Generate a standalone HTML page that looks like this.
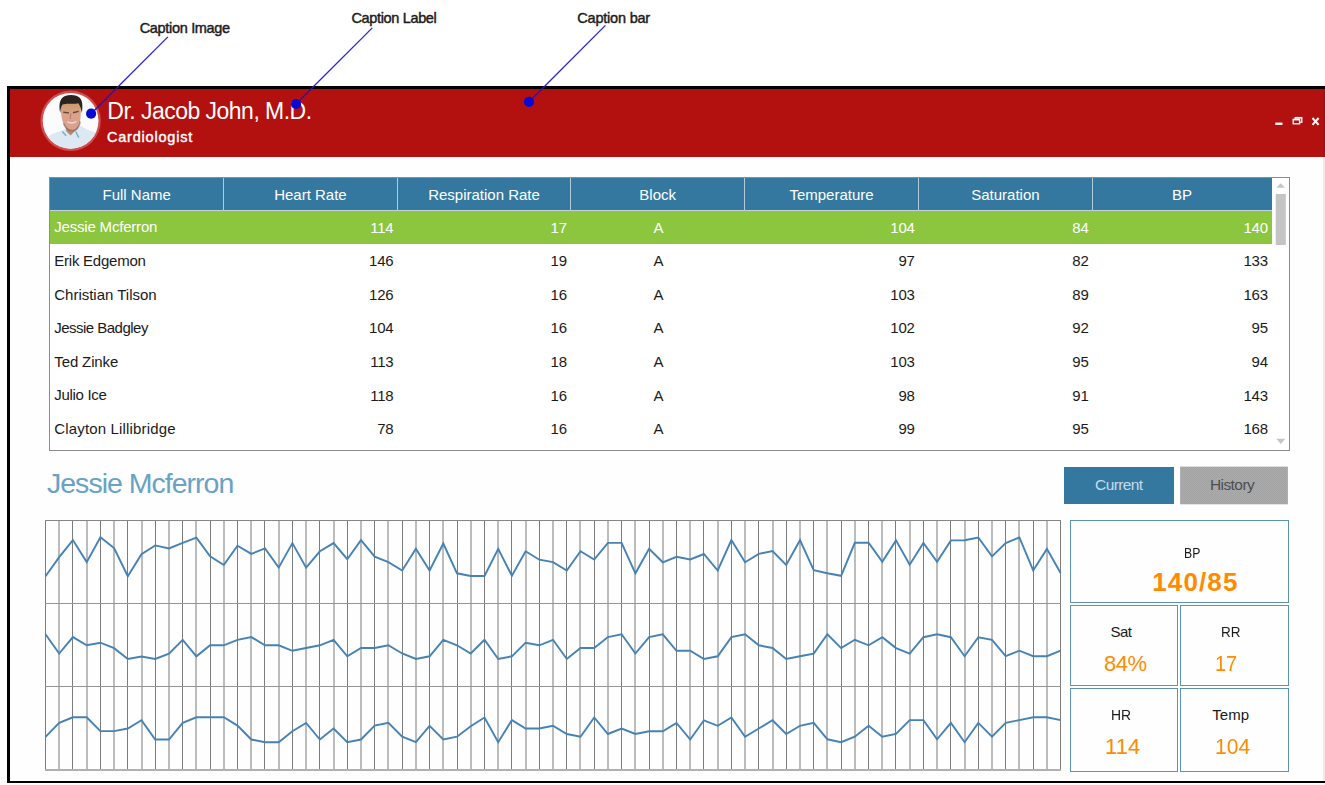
<!DOCTYPE html>
<html><head><meta charset="utf-8"><title>Patient Monitor</title>
<style>
html,body{margin:0;padding:0;background:#fff;}
body{width:1325px;height:785px;position:relative;overflow:hidden;font-family:"Liberation Sans",sans-serif;}
.abs{position:absolute;}
.t{position:absolute;white-space:nowrap;}
#win{position:absolute;left:7px;top:86px;width:1318px;height:697px;background:#fefefe;}
#bl{position:absolute;left:7px;top:86px;width:3px;height:696.7px;background:#000;}
#bt{position:absolute;left:7px;top:86px;width:1318px;height:2.5px;background:#000;}
#bb{position:absolute;left:7px;top:781.2px;width:1318px;height:1.5px;background:#000;}
#bar{position:absolute;left:10px;top:88.5px;width:1315px;height:68px;background:#b31110;}
#tbl{position:absolute;left:49px;top:177px;width:1239px;height:272px;border:1px solid #8c8c8c;background:#fff;box-sizing:content-box;}
#thead{position:absolute;left:50px;top:178px;width:1221.7px;height:32.3px;background:#34789f;}
#hline{position:absolute;left:50px;top:210.2px;width:1221.7px;height:1px;background:#c3d3dd;}
#sel{position:absolute;left:50px;top:211.2px;width:1221.7px;height:32.6px;background:#8cc63f;}
.box{position:absolute;border:1px solid #5b93b5;box-sizing:border-box;background:#fefefe;}
</style></head><body>
<div id="win"></div>
<div id="bar"></div>
<div class="abs" style="left:1323px;top:88.5px;width:2px;height:693px;background:rgba(0,0,0,0.075)"></div>
<div id="bl"></div><div id="bt"></div><div id="bb"></div>

<!-- avatar -->
<svg class="abs" style="left:38px;top:88px" width="66" height="68" viewBox="38 88 66 68">
<defs><clipPath id="av"><circle cx="70.6" cy="120.8" r="27.9"/></clipPath>
<filter id="sb" x="-10%" y="-10%" width="120%" height="120%"><feGaussianBlur stdDeviation="0.55"/></filter>
<linearGradient id="skin" x1="0" y1="0" x2="0" y2="1"><stop offset="0" stop-color="#c9996b"/><stop offset="0.45" stop-color="#dda28a"/><stop offset="1" stop-color="#d9a092"/></linearGradient></defs>
<circle cx="70.6" cy="120.8" r="30.2" fill="#d24d4b"/>
<circle cx="70.6" cy="120.8" r="27.9" fill="#f9fbfd"/>
<g clip-path="url(#av)"><g filter="url(#sb)">
<path d="M45 153 L47.6 136.5 C52 133.5 58 132 63 130 L66.3 128 L70.3 133.5 L80 125.5 C84 128.5 90 130.5 95 132.5 L100 153 Z" fill="#dce9f2"/>
<path d="M64.8 124 L66.5 131.5 L70.5 135.5 L78 128 L79 121 Z" fill="#b98670"/>
<path d="M62.3 131.5 L66.2 135.8" stroke="#6fa9d2" stroke-width="1.3"/>
<path d="M75.6 131.5 L78.8 137.6" stroke="#6fa9d2" stroke-width="1.3"/>
<path d="M61 105 C60.5 112 61.5 120 64 125 C66.5 130 71 131.8 74 130.6 C78 129 80 124 80.5 118 C81 112 81 107 80 103.5 C76 101.5 66 101.5 61 105 Z" fill="url(#skin)"/>
<path d="M63.6 123.5 C66 129.8 71 131.6 75 130 C78 128.5 79.6 125 80.2 121.5" stroke="#6e4a3b" stroke-width="1.5" fill="none" opacity=".5"/>
<path d="M60.2 113 C58.4 104 60 98 65 96 C70 94.2 77 94.6 80 98 C83 101.5 82.6 108 81.9 113 C81 108.5 80 105.5 78.3 103.3 C74 104.6 66 103 62.6 104.6 C61 106.5 60.6 109.5 60.2 113 Z" fill="#2a201c"/>
<path d="M63.3 112.2 L69 112.9 M73 112.7 L78.6 111.4" stroke="#553527" stroke-width="1.4" opacity=".85"/>
<path d="M70.8 113.5 L70.2 119" stroke="#a06a50" stroke-width="1.2" opacity=".6"/>
<path d="M67.2 121.8 C70 123.6 74 123.4 76.4 121.2" stroke="#fff" stroke-width="1.3" fill="none" opacity=".6"/>
</g></g>
</svg>

<!-- window buttons -->
<svg class="abs" style="left:1270px;top:112px" width="55" height="18" viewBox="1270 112 55 18">
<rect x="1275.3" y="122.6" width="7.2" height="2.3" fill="#fff"/>
<g fill="none" stroke="#fff" stroke-width="1.3"><rect x="1295.2" y="117.6" width="6.6" height="4.6"/><rect x="1293.2" y="119.4" width="6.4" height="4.4" fill="#b31110"/></g>
<rect x="1295.2" y="117" width="6.6" height="1.6" fill="#fff"/><rect x="1293.2" y="118.9" width="6.4" height="1.5" fill="#fff"/>
<path d="M1312.5 118 L1318.6 124.8 M1318.6 118 L1312.5 124.8" stroke="#fff" stroke-width="2" fill="none"/>
</svg>

<!-- table -->
<div id="tbl"></div>
<div id="thead"></div><div id="hline"></div><div id="sel"></div>
<div class="abs" style="left:222.9px;top:178px;width:1px;height:32.5px;background:#b4cad8"></div><div class="abs" style="left:396.7px;top:178px;width:1px;height:32.5px;background:#b4cad8"></div><div class="abs" style="left:570.1px;top:178px;width:1px;height:32.5px;background:#b4cad8"></div><div class="abs" style="left:744.0px;top:178px;width:1px;height:32.5px;background:#b4cad8"></div><div class="abs" style="left:917.9px;top:178px;width:1px;height:32.5px;background:#b4cad8"></div><div class="abs" style="left:1091.8px;top:178px;width:1px;height:32.5px;background:#b4cad8"></div>
<svg class="abs" style="left:1272px;top:178px" width="17" height="273"><path d="M4.3 9.8 L8.7 5.2 L13 9.8 Z" fill="#c6c6c6"/><rect x="3.7" y="16" width="10.1" height="51" fill="#c4c4c4"/><path d="M4.2 260.8 L13.4 260.8 L8.8 266 Z" fill="#c6c6c6"/></svg>
<div class="t" style="left:102.47px;top:186.60px;font-size:15px;line-height:15px;font-weight:normal;color:#fff;letter-spacing:0.000px;">Full Name</div>
<div class="t" style="left:274.13px;top:186.60px;font-size:15px;line-height:15px;font-weight:normal;color:#fff;letter-spacing:0.000px;">Heart Rate</div>
<div class="t" style="left:428.13px;top:186.60px;font-size:15px;line-height:15px;font-weight:normal;color:#fff;letter-spacing:0.000px;">Respiration Rate</div>
<div class="t" style="left:639.31px;top:186.60px;font-size:15px;line-height:15px;font-weight:normal;color:#fff;letter-spacing:0.000px;">Block</div>
<div class="t" style="left:789.44px;top:186.60px;font-size:15px;line-height:15px;font-weight:normal;color:#fff;letter-spacing:0.000px;">Temperature</div>
<div class="t" style="left:971.25px;top:186.60px;font-size:15px;line-height:15px;font-weight:normal;color:#fff;letter-spacing:0.000px;">Saturation</div>
<div class="t" style="left:1172.04px;top:186.60px;font-size:15px;line-height:15px;font-weight:normal;color:#fff;letter-spacing:0.000px;">BP</div>
<div class="t" style="left:370.18px;top:219.50px;font-size:15px;line-height:15px;font-weight:normal;color:#fff;letter-spacing:-0.200px;">114</div>
<div class="t" style="left:550.61px;top:219.50px;font-size:15px;line-height:15px;font-weight:normal;color:#fff;letter-spacing:-0.200px;">17</div>
<div class="t" style="left:653.39px;top:219.50px;font-size:15px;line-height:15px;font-weight:normal;color:#fff;letter-spacing:-0.200px;">A</div>
<div class="t" style="left:890.27px;top:219.50px;font-size:15px;line-height:15px;font-weight:normal;color:#fff;letter-spacing:-0.200px;">104</div>
<div class="t" style="left:1072.31px;top:219.50px;font-size:15px;line-height:15px;font-weight:normal;color:#fff;letter-spacing:-0.200px;">84</div>
<div class="t" style="left:1243.47px;top:219.50px;font-size:15px;line-height:15px;font-weight:normal;color:#fff;letter-spacing:-0.200px;">140</div>
<div class="t" style="left:369.07px;top:253.15px;font-size:15px;line-height:15px;font-weight:normal;color:#1a1a1a;letter-spacing:-0.200px;">146</div>
<div class="t" style="left:550.61px;top:253.15px;font-size:15px;line-height:15px;font-weight:normal;color:#1a1a1a;letter-spacing:-0.200px;">19</div>
<div class="t" style="left:653.39px;top:253.15px;font-size:15px;line-height:15px;font-weight:normal;color:#1a1a1a;letter-spacing:-0.200px;">A</div>
<div class="t" style="left:898.41px;top:253.15px;font-size:15px;line-height:15px;font-weight:normal;color:#1a1a1a;letter-spacing:-0.200px;">97</div>
<div class="t" style="left:1072.31px;top:253.15px;font-size:15px;line-height:15px;font-weight:normal;color:#1a1a1a;letter-spacing:-0.200px;">82</div>
<div class="t" style="left:1243.47px;top:253.15px;font-size:15px;line-height:15px;font-weight:normal;color:#1a1a1a;letter-spacing:-0.200px;">133</div>
<div class="t" style="left:369.07px;top:286.80px;font-size:15px;line-height:15px;font-weight:normal;color:#1a1a1a;letter-spacing:-0.200px;">126</div>
<div class="t" style="left:550.61px;top:286.80px;font-size:15px;line-height:15px;font-weight:normal;color:#1a1a1a;letter-spacing:-0.200px;">16</div>
<div class="t" style="left:653.39px;top:286.80px;font-size:15px;line-height:15px;font-weight:normal;color:#1a1a1a;letter-spacing:-0.200px;">A</div>
<div class="t" style="left:890.27px;top:286.80px;font-size:15px;line-height:15px;font-weight:normal;color:#1a1a1a;letter-spacing:-0.200px;">103</div>
<div class="t" style="left:1072.31px;top:286.80px;font-size:15px;line-height:15px;font-weight:normal;color:#1a1a1a;letter-spacing:-0.200px;">89</div>
<div class="t" style="left:1243.47px;top:286.80px;font-size:15px;line-height:15px;font-weight:normal;color:#1a1a1a;letter-spacing:-0.200px;">163</div>
<div class="t" style="left:369.07px;top:320.45px;font-size:15px;line-height:15px;font-weight:normal;color:#1a1a1a;letter-spacing:-0.200px;">104</div>
<div class="t" style="left:550.61px;top:320.45px;font-size:15px;line-height:15px;font-weight:normal;color:#1a1a1a;letter-spacing:-0.200px;">16</div>
<div class="t" style="left:653.39px;top:320.45px;font-size:15px;line-height:15px;font-weight:normal;color:#1a1a1a;letter-spacing:-0.200px;">A</div>
<div class="t" style="left:890.27px;top:320.45px;font-size:15px;line-height:15px;font-weight:normal;color:#1a1a1a;letter-spacing:-0.200px;">102</div>
<div class="t" style="left:1072.31px;top:320.45px;font-size:15px;line-height:15px;font-weight:normal;color:#1a1a1a;letter-spacing:-0.200px;">92</div>
<div class="t" style="left:1251.61px;top:320.45px;font-size:15px;line-height:15px;font-weight:normal;color:#1a1a1a;letter-spacing:-0.200px;">95</div>
<div class="t" style="left:370.18px;top:354.10px;font-size:15px;line-height:15px;font-weight:normal;color:#1a1a1a;letter-spacing:-0.200px;">113</div>
<div class="t" style="left:550.61px;top:354.10px;font-size:15px;line-height:15px;font-weight:normal;color:#1a1a1a;letter-spacing:-0.200px;">18</div>
<div class="t" style="left:653.39px;top:354.10px;font-size:15px;line-height:15px;font-weight:normal;color:#1a1a1a;letter-spacing:-0.200px;">A</div>
<div class="t" style="left:890.27px;top:354.10px;font-size:15px;line-height:15px;font-weight:normal;color:#1a1a1a;letter-spacing:-0.200px;">103</div>
<div class="t" style="left:1072.31px;top:354.10px;font-size:15px;line-height:15px;font-weight:normal;color:#1a1a1a;letter-spacing:-0.200px;">95</div>
<div class="t" style="left:1251.61px;top:354.10px;font-size:15px;line-height:15px;font-weight:normal;color:#1a1a1a;letter-spacing:-0.200px;">94</div>
<div class="t" style="left:370.18px;top:387.75px;font-size:15px;line-height:15px;font-weight:normal;color:#1a1a1a;letter-spacing:-0.200px;">118</div>
<div class="t" style="left:550.61px;top:387.75px;font-size:15px;line-height:15px;font-weight:normal;color:#1a1a1a;letter-spacing:-0.200px;">16</div>
<div class="t" style="left:653.39px;top:387.75px;font-size:15px;line-height:15px;font-weight:normal;color:#1a1a1a;letter-spacing:-0.200px;">A</div>
<div class="t" style="left:898.41px;top:387.75px;font-size:15px;line-height:15px;font-weight:normal;color:#1a1a1a;letter-spacing:-0.200px;">98</div>
<div class="t" style="left:1072.31px;top:387.75px;font-size:15px;line-height:15px;font-weight:normal;color:#1a1a1a;letter-spacing:-0.200px;">91</div>
<div class="t" style="left:1243.47px;top:387.75px;font-size:15px;line-height:15px;font-weight:normal;color:#1a1a1a;letter-spacing:-0.200px;">143</div>
<div class="t" style="left:377.21px;top:421.40px;font-size:15px;line-height:15px;font-weight:normal;color:#1a1a1a;letter-spacing:-0.200px;">78</div>
<div class="t" style="left:550.61px;top:421.40px;font-size:15px;line-height:15px;font-weight:normal;color:#1a1a1a;letter-spacing:-0.200px;">16</div>
<div class="t" style="left:653.39px;top:421.40px;font-size:15px;line-height:15px;font-weight:normal;color:#1a1a1a;letter-spacing:-0.200px;">A</div>
<div class="t" style="left:898.41px;top:421.40px;font-size:15px;line-height:15px;font-weight:normal;color:#1a1a1a;letter-spacing:-0.200px;">99</div>
<div class="t" style="left:1072.31px;top:421.40px;font-size:15px;line-height:15px;font-weight:normal;color:#1a1a1a;letter-spacing:-0.200px;">95</div>
<div class="t" style="left:1243.47px;top:421.40px;font-size:15px;line-height:15px;font-weight:normal;color:#1a1a1a;letter-spacing:-0.200px;">168</div>


<div class="abs" style="left:1064px;top:466.7px;width:110px;height:37.2px;background:#34789f"></div>
<svg class="abs" style="left:1180px;top:466px" width="109" height="39"><defs><pattern id="dz" width="2" height="2" patternUnits="userSpaceOnUse"><rect width="2" height="2" fill="#ababab"/><rect width="1" height="1" fill="#a3a3a3"/><rect x="1" y="1" width="1" height="1" fill="#a3a3a3"/></pattern></defs><rect x="0.1" y="0.6" width="107.8" height="37.7" fill="url(#dz)"/></svg>

<!-- charts -->
<svg class="abs" style="left:0;top:0" width="1070" height="785" viewBox="0 0 1070 785">
<g shape-rendering="crispEdges"><rect x="45" y="520" width="1" height="250" fill="#7c7c7c"/><rect x="58" y="520" width="2" height="250" fill="#bcbcbc"/><rect x="72" y="520" width="1" height="250" fill="#7c7c7c"/><rect x="86" y="520" width="2" height="250" fill="#bcbcbc"/><rect x="100" y="520" width="1" height="250" fill="#7c7c7c"/><rect x="113" y="520" width="2" height="250" fill="#bcbcbc"/><rect x="127" y="520" width="1" height="250" fill="#7c7c7c"/><rect x="141" y="520" width="2" height="250" fill="#bcbcbc"/><rect x="155" y="520" width="1" height="250" fill="#7c7c7c"/><rect x="168" y="520" width="2" height="250" fill="#bcbcbc"/><rect x="182" y="520" width="1" height="250" fill="#7c7c7c"/><rect x="195" y="520" width="2" height="250" fill="#bcbcbc"/><rect x="210" y="520" width="1" height="250" fill="#7c7c7c"/><rect x="223" y="520" width="2" height="250" fill="#bcbcbc"/><rect x="237" y="520" width="1" height="250" fill="#7c7c7c"/><rect x="250" y="520" width="2" height="250" fill="#bcbcbc"/><rect x="264" y="520" width="1" height="250" fill="#7c7c7c"/><rect x="278" y="520" width="2" height="250" fill="#bcbcbc"/><rect x="292" y="520" width="1" height="250" fill="#7c7c7c"/><rect x="305" y="520" width="2" height="250" fill="#bcbcbc"/><rect x="319" y="520" width="1" height="250" fill="#7c7c7c"/><rect x="333" y="520" width="2" height="250" fill="#bcbcbc"/><rect x="347" y="520" width="1" height="250" fill="#7c7c7c"/><rect x="360" y="520" width="2" height="250" fill="#bcbcbc"/><rect x="374" y="520" width="1" height="250" fill="#7c7c7c"/><rect x="387" y="520" width="2" height="250" fill="#bcbcbc"/><rect x="402" y="520" width="1" height="250" fill="#7c7c7c"/><rect x="415" y="520" width="2" height="250" fill="#bcbcbc"/><rect x="429" y="520" width="1" height="250" fill="#7c7c7c"/><rect x="442" y="520" width="2" height="250" fill="#bcbcbc"/><rect x="457" y="520" width="1" height="250" fill="#7c7c7c"/><rect x="470" y="520" width="2" height="250" fill="#bcbcbc"/><rect x="484" y="520" width="1" height="250" fill="#7c7c7c"/><rect x="497" y="520" width="2" height="250" fill="#bcbcbc"/><rect x="511" y="520" width="1" height="250" fill="#7c7c7c"/><rect x="525" y="520" width="2" height="250" fill="#bcbcbc"/><rect x="539" y="520" width="1" height="250" fill="#7c7c7c"/><rect x="552" y="520" width="2" height="250" fill="#bcbcbc"/><rect x="566" y="520" width="1" height="250" fill="#7c7c7c"/><rect x="579" y="520" width="2" height="250" fill="#bcbcbc"/><rect x="594" y="520" width="1" height="250" fill="#7c7c7c"/><rect x="607" y="520" width="2" height="250" fill="#bcbcbc"/><rect x="621" y="520" width="1" height="250" fill="#7c7c7c"/><rect x="634" y="520" width="2" height="250" fill="#bcbcbc"/><rect x="649" y="520" width="1" height="250" fill="#7c7c7c"/><rect x="662" y="520" width="2" height="250" fill="#bcbcbc"/><rect x="676" y="520" width="1" height="250" fill="#7c7c7c"/><rect x="689" y="520" width="2" height="250" fill="#bcbcbc"/><rect x="703" y="520" width="1" height="250" fill="#7c7c7c"/><rect x="717" y="520" width="2" height="250" fill="#bcbcbc"/><rect x="731" y="520" width="1" height="250" fill="#7c7c7c"/><rect x="744" y="520" width="2" height="250" fill="#bcbcbc"/><rect x="758" y="520" width="1" height="250" fill="#7c7c7c"/><rect x="772" y="520" width="2" height="250" fill="#bcbcbc"/><rect x="786" y="520" width="1" height="250" fill="#7c7c7c"/><rect x="799" y="520" width="2" height="250" fill="#bcbcbc"/><rect x="813" y="520" width="1" height="250" fill="#7c7c7c"/><rect x="826" y="520" width="2" height="250" fill="#bcbcbc"/><rect x="841" y="520" width="1" height="250" fill="#7c7c7c"/><rect x="854" y="520" width="2" height="250" fill="#bcbcbc"/><rect x="868" y="520" width="1" height="250" fill="#7c7c7c"/><rect x="881" y="520" width="2" height="250" fill="#bcbcbc"/><rect x="895" y="520" width="1" height="250" fill="#7c7c7c"/><rect x="909" y="520" width="2" height="250" fill="#bcbcbc"/><rect x="923" y="520" width="1" height="250" fill="#7c7c7c"/><rect x="936" y="520" width="2" height="250" fill="#bcbcbc"/><rect x="950" y="520" width="1" height="250" fill="#7c7c7c"/><rect x="964" y="520" width="2" height="250" fill="#bcbcbc"/><rect x="978" y="520" width="1" height="250" fill="#7c7c7c"/><rect x="991" y="520" width="2" height="250" fill="#bcbcbc"/><rect x="1005" y="520" width="1" height="250" fill="#7c7c7c"/><rect x="1018" y="520" width="2" height="250" fill="#bcbcbc"/><rect x="1033" y="520" width="1" height="250" fill="#7c7c7c"/><rect x="1046" y="520" width="2" height="250" fill="#bcbcbc"/><rect x="1060" y="520" width="1" height="250" fill="#7c7c7c"/>
<rect x="45" y="520" width="1016" height="1" fill="#858585"/><rect x="45" y="603" width="1016" height="1" fill="#959595"/><rect x="45" y="686" width="1016" height="1" fill="#959595"/><rect x="45" y="769" width="1016" height="1.6" fill="#b0b0b0"/></g>
<g stroke="#4682b4" stroke-width="1.9" fill="none" stroke-linejoin="miter">
<polyline points="45.5,576.2 59.2,557.2 72.9,540.1 86.7,562.1 100.4,537.2 114.1,548.0 127.8,576.2 141.5,554.2 155.2,545.4 169.0,548.4 182.7,542.9 196.4,537.6 210.1,556.2 223.8,565.0 237.5,545.8 251.3,553.9 265.0,548.4 278.7,567.6 292.4,543.1 306.1,567.6 319.9,551.3 333.6,543.1 347.3,559.2 361.0,540.1 374.7,556.6 388.4,562.1 402.2,570.5 415.9,548.8 429.6,570.5 443.3,543.5 457.0,573.3 470.7,576.0 484.5,576.0 498.2,548.8 511.9,575.8 525.6,551.3 539.3,559.7 553.0,562.1 566.8,570.5 580.5,551.3 594.2,559.5 607.9,542.9 621.6,542.9 635.4,573.3 649.1,548.8 662.8,562.3 676.5,556.8 690.2,559.5 703.9,554.0 717.7,570.5 731.4,540.1 745.1,562.3 758.8,553.9 772.5,551.1 786.2,565.0 800.0,540.2 813.7,570.2 827.4,573.2 841.1,575.8 854.8,542.8 868.6,542.8 882.3,561.8 896.0,540.4 909.7,564.7 923.4,543.0 937.1,561.8 950.9,540.4 964.6,540.2 978.3,537.5 992.0,556.4 1005.7,543.0 1019.4,537.5 1033.2,570.4 1046.9,548.9 1060.6,573.0"/>
<polyline points="45.5,634.3 59.2,653.5 72.9,637.1 86.7,645.3 100.4,642.7 114.1,648.2 127.8,659.0 141.5,656.5 155.2,659.0 169.0,653.7 182.7,639.8 196.4,656.3 210.1,645.3 223.8,645.3 237.5,639.8 251.3,637.1 265.0,645.3 278.7,645.3 292.4,650.8 306.1,648.0 319.9,645.3 333.6,639.8 347.3,656.3 361.0,648.0 374.7,648.0 388.4,645.3 402.2,653.5 415.9,659.0 429.6,656.3 443.3,639.8 457.0,645.3 470.7,653.5 484.5,639.8 498.2,659.0 511.9,656.3 525.6,642.7 539.3,645.3 553.0,639.8 566.8,659.0 580.5,648.0 594.2,648.0 607.9,637.1 621.6,634.3 635.4,653.5 649.1,637.1 662.8,634.3 676.5,650.8 690.2,650.8 703.9,659.0 717.7,656.3 731.4,637.1 745.1,634.3 758.8,645.3 772.5,648.0 786.2,659.0 800.0,656.2 813.7,653.6 827.4,634.3 841.1,648.1 854.8,639.8 868.6,645.3 882.3,637.2 896.0,648.1 909.7,653.6 923.4,637.2 937.1,634.3 950.9,637.2 964.6,656.2 978.3,637.2 992.0,639.8 1005.7,656.2 1019.4,650.7 1033.2,656.2 1046.9,656.2 1060.6,650.7"/>
<polyline points="45.5,736.9 59.2,722.8 72.9,717.3 86.7,717.3 100.4,731.1 114.1,731.1 127.8,728.5 141.5,720.3 155.2,739.5 169.0,739.5 182.7,722.8 196.4,717.3 210.1,717.3 223.8,717.3 237.5,725.6 251.3,739.5 265.0,742.2 278.7,742.2 292.4,731.3 306.1,723.0 319.9,739.5 333.6,728.5 347.3,742.2 361.0,739.5 374.7,725.6 388.4,722.8 402.2,736.6 415.9,742.2 429.6,725.8 443.3,739.5 457.0,736.7 470.7,726.2 484.5,717.5 498.2,742.2 511.9,720.1 525.6,728.5 539.3,728.5 553.0,725.8 566.8,734.0 580.5,736.7 594.2,717.5 607.9,734.0 621.6,728.5 635.4,734.0 649.1,731.3 662.8,731.3 676.5,723.0 690.2,739.5 703.9,720.3 717.7,725.8 731.4,717.5 745.1,736.7 758.8,728.5 772.5,720.3 786.2,734.0 800.0,725.8 813.7,722.9 827.4,739.3 841.1,742.2 854.8,736.7 868.6,725.8 882.3,736.7 896.0,733.9 909.7,720.1 923.4,720.1 937.1,739.3 950.9,722.9 964.6,742.2 978.3,722.9 992.0,736.7 1005.7,722.9 1019.4,720.1 1033.2,717.2 1046.9,717.2 1060.6,720.1"/></g>
</svg>

<!-- vitals -->
<div class="box" style="left:1070px;top:520px;width:219px;height:83px"></div>
<div class="box" style="left:1070px;top:605px;width:108px;height:81px"></div>
<div class="box" style="left:1180px;top:605px;width:109px;height:81px"></div>
<div class="box" style="left:1070px;top:688px;width:108px;height:84px"></div>
<div class="box" style="left:1180px;top:688px;width:109px;height:84px"></div>
<div class="t" style="left:139.70px;top:21.23px;font-size:14.5px;line-height:14.5px;font-weight:normal;color:#1c1c1c;letter-spacing:-0.318px;-webkit-text-stroke:0.45px #1c1c1c;">Caption Image</div>
<div class="t" style="left:351.50px;top:10.83px;font-size:14.5px;line-height:14.5px;font-weight:normal;color:#1c1c1c;letter-spacing:-0.350px;-webkit-text-stroke:0.45px #1c1c1c;">Caption Label</div>
<div class="t" style="left:577.30px;top:10.53px;font-size:14.5px;line-height:14.5px;font-weight:normal;color:#1c1c1c;letter-spacing:-0.207px;-webkit-text-stroke:0.45px #1c1c1c;">Caption bar</div>
<div class="t" style="left:107.30px;top:99.83px;font-size:23px;line-height:23px;font-weight:normal;color:#fff;letter-spacing:-0.524px;">Dr. Jacob John, M.D.</div>
<div class="t" style="left:106.90px;top:130.03px;font-size:14.5px;line-height:14.5px;font-weight:normal;color:#fff;letter-spacing:0.802px;-webkit-text-stroke:0.4px #fff;">Cardiologist</div>
<div class="t" style="left:47.00px;top:468.77px;font-size:28.5px;line-height:28.5px;font-weight:normal;color:#69a2c3;letter-spacing:-0.990px;">Jessie Mcferron</div>
<div class="t" style="left:1095.10px;top:477.38px;font-size:15.5px;line-height:15.5px;font-weight:normal;color:#c6dcea;letter-spacing:-0.631px;">Current</div>
<div class="t" style="left:1209.90px;top:477.38px;font-size:15.5px;line-height:15.5px;font-weight:normal;color:#4e4e4e;letter-spacing:-0.556px;">History</div>
<div class="t" style="left:1183.60px;top:545.20px;font-size:15px;line-height:15px;font-weight:normal;color:#1a1a1a;letter-spacing:0.000px;transform:scaleX(0.8144);transform-origin:0 0;">BP</div>
<div class="t" style="left:1152.30px;top:568.89px;font-size:26px;line-height:26px;font-weight:bold;color:#ff8c00;letter-spacing:1.114px;">140/85</div>
<div class="t" style="left:1110.40px;top:623.50px;font-size:15px;line-height:15px;font-weight:normal;color:#1a1a1a;letter-spacing:-0.458px;">Sat</div>
<div class="t" style="left:1104.00px;top:652.88px;font-size:22px;line-height:22px;font-weight:normal;color:#ff8c00;letter-spacing:-0.473px;">84%</div>
<div class="t" style="left:1220.90px;top:623.50px;font-size:15px;line-height:15px;font-weight:normal;color:#1a1a1a;letter-spacing:0.000px;transform:scaleX(0.8998);transform-origin:0 0;">RR</div>
<div class="t" style="left:1215.20px;top:652.88px;font-size:22px;line-height:22px;font-weight:normal;color:#ff8c00;letter-spacing:0.000px;transform:scaleX(0.9067);transform-origin:0 0;">17</div>
<div class="t" style="left:1110.90px;top:706.50px;font-size:15px;line-height:15px;font-weight:normal;color:#1a1a1a;letter-spacing:0.000px;transform:scaleX(0.9275);transform-origin:0 0;">HR</div>
<div class="t" style="left:1105.10px;top:736.18px;font-size:22px;line-height:22px;font-weight:normal;color:#ff8c00;letter-spacing:0.011px;">114</div>
<div class="t" style="left:1212.20px;top:706.50px;font-size:15px;line-height:15px;font-weight:normal;color:#1a1a1a;letter-spacing:0.071px;">Temp</div>
<div class="t" style="left:1215.20px;top:736.18px;font-size:22px;line-height:22px;font-weight:normal;color:#ff8c00;letter-spacing:0.000px;transform:scaleX(0.9559);transform-origin:0 0;">104</div>
<div class="t" style="left:54.30px;top:219.20px;font-size:15px;line-height:15px;font-weight:normal;color:#fff;letter-spacing:-0.198px;">Jessie Mcferron</div>
<div class="t" style="left:54.30px;top:252.85px;font-size:15px;line-height:15px;font-weight:normal;color:#1a1a1a;letter-spacing:-0.238px;">Erik Edgemon</div>
<div class="t" style="left:54.30px;top:286.50px;font-size:15px;line-height:15px;font-weight:normal;color:#1a1a1a;letter-spacing:-0.016px;">Christian Tilson</div>
<div class="t" style="left:54.30px;top:320.15px;font-size:15px;line-height:15px;font-weight:normal;color:#1a1a1a;letter-spacing:-0.524px;">Jessie Badgley</div>
<div class="t" style="left:54.30px;top:353.80px;font-size:15px;line-height:15px;font-weight:normal;color:#1a1a1a;letter-spacing:-0.131px;">Ted Zinke</div>
<div class="t" style="left:54.30px;top:387.45px;font-size:15px;line-height:15px;font-weight:normal;color:#1a1a1a;letter-spacing:-0.316px;">Julio Ice</div>
<div class="t" style="left:54.30px;top:421.10px;font-size:15px;line-height:15px;font-weight:normal;color:#1a1a1a;letter-spacing:0.155px;">Clayton Lillibridge</div>

<!-- annotation lines -->
<svg class="abs" style="left:0;top:0" width="700" height="130">
<g stroke="#2626dc" stroke-width="1.3" fill="none">
<line x1="167.9" y1="36.9" x2="118.8" y2="86"/><line x1="372.3" y1="27.9" x2="314.05" y2="86"/><line x1="605.4" y1="25.4" x2="544.9" y2="86"/></g>
<g stroke="#35129c" stroke-width="1.3" fill="none"><line x1="118.8" y1="86" x2="91.1" y2="113.7"/><line x1="314.05" y1="86" x2="296" y2="104"/><line x1="544.9" y1="86" x2="529" y2="101.9"/></g>
<g fill="#0a0ad6"><circle cx="91.1" cy="113.7" r="5.1"/><circle cx="296" cy="104" r="5.1"/><circle cx="529" cy="101.9" r="5.1"/></g>
</svg>

</body></html>
